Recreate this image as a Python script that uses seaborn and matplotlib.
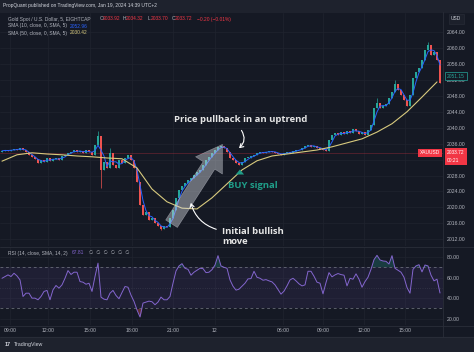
import numpy as np
import pandas as pd

import matplotlib
matplotlib.use("Agg")
import matplotlib.pyplot as plt
import seaborn as sns
from matplotlib.patches import FancyArrowPatch, Rectangle
from matplotlib.lines import Line2D

# XAUUSD 5 min (one candle ~ every 3 px)
close = [
    2034.2, 2034.4, 2034.2, 2034.4, 2034.7, 2034.4, 2034.9, 2034.4, 2033.9, 2033.2,
    2032.7, 2032.2, 2031.2, 2031.9, 2031.4, 2032.4, 2031.7, 2032.2, 2032.4, 2031.9,
    2032.9, 2033.2, 2033.7, 2033.9, 2034.4, 2033.9, 2034.2, 2033.7, 2034.4, 2033.9,
    2033.2, 2035.7, 2037.9, 2029.4, 2031.4, 2029.9, 2033.7, 2030.7, 2029.9, 2031.9,
    2031.2, 2032.4, 2033.2, 2031.9, 2029.9, 2026.4, 2020.6, 2018.1, 2018.8, 2016.8,
    2017.3, 2016.1, 2015.3, 2014.6, 2015.3, 2015.1, 2017.3, 2019.3, 2022.4, 2024.4,
    2025.4, 2026.1, 2026.9, 2027.4, 2028.1, 2028.9, 2029.4, 2030.7, 2031.9, 2032.7,
    2033.7, 2034.4, 2035.2, 2035.4, 2034.9, 2033.9, 2032.4, 2031.9, 2031.2, 2030.7,
    2031.4, 2032.4, 2032.4, 2032.9, 2033.2, 2033.7, 2033.9, 2033.7, 2033.9, 2034.2,
    2033.9, 2033.7, 2033.4, 2033.2, 2033.7, 2033.9, 2033.7, 2034.2, 2034.4, 2034.4,
    2034.9, 2035.4, 2035.7, 2035.2, 2035.4, 2034.9, 2034.7, 2034.4, 2034.2, 2036.9,
    2038.2, 2038.7, 2038.2, 2038.9, 2038.4, 2039.2, 2038.7, 2039.7, 2039.2, 2038.4,
    2038.9, 2038.2, 2039.4, 2040.7, 2045.0, 2046.2, 2045.0, 2045.5, 2046.0, 2047.5,
    2049.0, 2051.0, 2049.5, 2048.2, 2047.0, 2045.5, 2048.2, 2052.5, 2054.0, 2055.0,
    2057.0, 2059.5, 2060.8, 2058.3, 2059.0, 2057.0, 2051.2,
]
first_open = 2034.0
spike_high = {32: 2039.2, 36: 2034.9, 125: 2047.5, 131: 2052.0, 142: 2061.5}
spike_low = {33: 2024.9, 53: 2014.3}

# SMA 50 (yellow), read every 5 candles
sma50_pos = list(range(0, 146, 5))
sma50 = [
    2031.6, 2033.2, 2033.7, 2033.4, 2033.2, 2032.9, 2032.7, 2032.4, 2032.2, 2029.9,
    2024.6, 2021.4, 2019.8, 2019.6, 2022.4, 2025.9, 2029.4, 2031.7, 2032.9, 2033.4,
    2033.9, 2034.4, 2035.2, 2036.2, 2037.2, 2038.9, 2041.0, 2044.0, 2047.7, 2051.5,
]

rsi = [
    59.3, 61.0, 62.6, 61.0, 64.2, 61.6, 57.7, 41.6, 44.8, 44.8,
    40.0, 40.0, 38.4, 41.6, 46.5, 47.5, 38.4, 48.1, 52.3, 49.7,
    52.9, 59.3, 66.8, 63.0, 65.2, 65.2, 56.1, 55.5, 53.5, 54.5,
    46.5, 61.0, 74.0, 41.0, 39.0, 38.4, 44.8, 47.5, 42.6, 39.4,
    45.5, 51.3, 50.6, 42.9, 36.8, 28.5, 21.7, 35.2, 36.2, 37.1,
    36.5, 33.6, 36.2, 41.0, 38.4, 38.4, 41.6, 54.5, 66.4, 71.3,
    73.5, 69.0, 68.0, 62.3, 65.2, 67.1, 69.0, 68.7, 64.8, 65.2,
    67.7, 72.2, 81.3, 71.3, 70.0, 69.0, 57.7, 51.6, 47.8, 48.7,
    51.6, 54.5, 58.7, 59.0, 66.1, 60.3, 59.3, 57.4, 58.0, 56.8,
    55.8, 52.9, 48.4, 43.9, 46.8, 51.9, 57.7, 59.3, 56.8, 53.9,
    51.9, 52.9, 66.1, 66.1, 61.3, 55.5, 54.5, 44.2, 55.1, 64.8,
    60.7, 62.6, 63.9, 62.9, 62.3, 51.9, 59.3, 58.4, 63.6, 58.4,
    50.6, 56.1, 60.3, 68.0, 77.4, 81.6, 77.1, 76.1, 75.8, 73.2,
    81.3, 69.0, 67.1, 65.2, 60.3, 50.3, 44.8, 68.0, 71.3, 72.5,
    65.5, 72.2, 71.3, 62.3, 56.8, 58.4, 45.0,
]

price_ticks = [2012, 2016, 2020, 2024, 2028, 2032, 2036, 2040, 2044, 2048, 2052, 2056, 2060, 2064]
rsi_ticks = [20, 40, 60, 80]
time_pos = [2.7, 15.3, 29.3, 43.3, 57, 71, 93.7, 107, 120.7, 134.3]
time_labels = ["09:00", "12:00", "15:00", "18:00", "21:00", "12", "06:00", "09:00", "12:00", "15:00"]
last_price = 2033.72

# цвета TradingView (тёмная тема)
BG = "#151924"
STRIP = "#1e222d"
GRID = "#20242f"
SEP = "#2a2e39"
TXT = "#b2b5be"
UP = "#26a69a"
DOWN = "#ef5350"
BLUE = "#2962ff"
YELLOW = "#d8ca7e"
PURPLE = "#8466cf"
RED = "#f23645"

sns.set_theme(style="dark")
plt.rcParams["font.family"] = ["Liberation Sans", "DejaVu Sans"]

W, H = 474, 352
fig = plt.figure(figsize=(W / 100, H / 100), dpi=100)
fig.patch.set_facecolor(BG)


def fx(x):
    return x / W


def fy(y):
    return 1 - y / H


ax = fig.add_axes([0, fy(246), fx(443), (246 - 13) / H])
ax2 = fig.add_axes([0, fy(325), fx(443), (325 - 247) / H])

for a in (ax, ax2):
    a.set_facecolor(BG)
    for s in a.spines.values():
        s.set_visible(False)
    a.set_xlim(-0.667, 147)
    a.yaxis.tick_right()
    a.set_xticks(time_pos)
    a.grid(True, color=GRID, lw=0.5)
    a.tick_params(length=0, labelsize=3.7, labelcolor=TXT, pad=3)

# --- свечи ---
idx = np.arange(len(close))
c = np.array(close)
o = np.array([first_open] + close[:-1])
body_lo = np.minimum(o, c)
hi = np.maximum(o, c)
lo = body_lo.copy()
for k, v in spike_high.items():
    hi[k] = v
for k, v in spike_low.items():
    lo[k] = v
cols = np.where(c >= o, UP, DOWN)

ax.axhline(last_price, color=RED, alpha=0.3, lw=0.6, zorder=1)
ax.vlines(idx, lo, hi, colors=cols, lw=0.5, zorder=2)
ax.bar(idx, np.maximum(np.abs(c - o), 0.12), bottom=body_lo, width=0.6,
       color=cols, linewidth=0, zorder=2)

sma10 = pd.Series(close).rolling(3, min_periods=1).mean()
sns.lineplot(x=idx, y=sma10, ax=ax, color=BLUE, lw=0.7, zorder=3)
sns.lineplot(x=sma50_pos, y=sma50, ax=ax, color=YELLOW, lw=0.8, zorder=3)

ax.set_ylim(2010.3, 2068.8)
ax.set_yticks(price_ticks)
# 2032 закрыт красной плашкой текущей цены
ax.set_yticklabels(["" if v == 2032 else f"{v:.2f}" for v in price_ticks])
ax.set_xticklabels([])
ax.set_xlabel("")
ax.set_ylabel("")

# --- аннотации ---
ax.add_patch(FancyArrowPatch((56, 2015.3), (74, 2036.4),
                             arrowstyle="simple,head_length=1.8,head_width=2.3,tail_width=1.0",
                             mutation_scale=10, fc="#d1d4dc", ec="#e0e3eb", alpha=0.45,
                             lw=0.4, zorder=4))
ax.add_patch(FancyArrowPatch((79.3, 2039.9), (78.3, 2034.4), connectionstyle="arc3,rad=-0.5",
                             arrowstyle="->,head_length=2.5,head_width=1.5", mutation_scale=1,
                             color="white", lw=0.8, zorder=5))
ax.add_patch(FancyArrowPatch((72.3, 2014.3), (62.7, 2021.8), connectionstyle="arc3,rad=-0.3",
                             arrowstyle="->,head_length=2.5,head_width=1.5", mutation_scale=1,
                             color="white", lw=0.8, zorder=5))
ax.add_patch(FancyArrowPatch((79.3, 2027.6), (79.3, 2030.2),
                             arrowstyle="simple,head_length=0.6,head_width=1.0,tail_width=0.45",
                             mutation_scale=6, color="#1f9e89", lw=0, zorder=5))

ann = dict(family=["Open Sans", "DejaVu Sans"], weight="bold", fontsize=6.8)
fig.text(fx(241), fy(119), "Price pullback in an uptrend", color="#e6e6e6",
         ha="center", va="center", **ann)
fig.text(fx(253), fy(186), "BUY signal", color="#1f9e89", ha="center", va="center", **ann)
fig.text(fx(222), fy(231), "Initial bullish", color="#e6e6e6", ha="left", va="center", **ann)
fig.text(fx(222), fy(242), "move", color="#e6e6e6", ha="left", va="center", **ann)

# --- RSI ---
ax2.axhspan(30, 70, color="#7e57c2", alpha=0.1, lw=0)
for lvl in (70, 30):
    ax2.axhline(lvl, color="#787b86", lw=0.5, ls=(0, (4, 4)))
ax2.axhline(50, color="#787b86", lw=0.4, ls=(0, (1, 3)), alpha=0.6)
r = np.array(rsi)
ax2.fill_between(idx, r, 70, where=r > 70, interpolate=True, color=UP, alpha=0.25, lw=0)
ax2.fill_between(idx, r, 30, where=r < 30, interpolate=True, color=DOWN, alpha=0.35, lw=0)
sns.lineplot(x=idx, y=r, ax=ax2, color=PURPLE, lw=0.7)
ax2.set_ylim(13.9, 89.7)
ax2.set_yticks(rsi_ticks)
ax2.set_yticklabels([f"{v:.2f}" for v in rsi_ticks])
ax2.set_xticklabels(time_labels)
ax2.tick_params(axis="x", pad=2)
ax2.set_xlabel("")
ax2.set_ylabel("")

# --- полосы и разделители ---
fig.add_artist(Rectangle((0, fy(12)), 1, 12 / H, transform=fig.transFigure,
                         color=STRIP, zorder=0))
fig.add_artist(Rectangle((0, 0), 1, 15 / H, transform=fig.transFigure,
                         color=STRIP, zorder=0))
for x0, y0, x1, y1 in [(443, 12, 443, 337), (0, 246.5, 474, 246.5), (0, 325.5, 474, 325.5),
                       (0, 337, 474, 337)]:
    fig.add_artist(Line2D([fx(x0), fx(x1)], [fy(y0), fy(y1)], color=SEP, lw=0.6))

small = dict(fontsize=3.5, va="center")
fig.text(fx(3), fy(6), "PropQuant published on TradingView.com, Jan 19, 2024 14:39 UTC+2",
         color="#d1d4dc", **small)

# легенда
fig.text(fx(8), fy(19), "Gold Spot / U.S. Dollar, 5, EIGHTCAP", color=TXT, **small)
for x, lab, val in [(100, "O", "2033.92"), (123, "H", "2034.32"),
                    (148, "L", "2033.70"), (172, "C", "2033.72")]:
    fig.text(fx(x), fy(19), lab, color=TXT, **small)
    fig.text(fx(x + 3), fy(19), val, color=RED, **small)
fig.text(fx(197), fy(19), "\u22120.20 (\u22120.01%)", color=RED, **small)
fig.text(fx(8), fy(26), "SMA (10, close, 0, SMA, 5)", color=TXT, **small)
fig.text(fx(70), fy(26), "2052.96", color=BLUE, **small)
fig.text(fx(8), fy(33), "SMA (50, close, 0, SMA, 5)", color=TXT, **small)
fig.text(fx(70), fy(33), "2030.42", color=YELLOW, **small)
fig.text(fx(8), fy(253), "RSI (14, close, SMA, 14, 2)", color=TXT, **small)
fig.text(fx(72), fy(253), "67.81", color=PURPLE, **small)
fig.text(fx(89), fy(253), "\u2205  \u2205  \u2205  \u2205  \u2205  \u2205", color=TXT,
         family=["DejaVu Sans"], **small)

# плашки на шкале цены
fig.text(fx(451), fy(19), "USD", color="#d1d4dc", zorder=5,
         bbox=dict(boxstyle="square,pad=0.5", fc="#1c202b", ec=SEP, lw=0.4), **small)
fig.text(fx(447), fy(76), "2051.15", color=UP, zorder=5,
         bbox=dict(boxstyle="square,pad=0.35", fc=BG, ec=UP, lw=0.5), **small)
fig.text(fx(420), fy(153), "XAUUSD", color="white", zorder=5, ha="left",
         bbox=dict(boxstyle="square,pad=0.35", fc=RED, ec=RED, lw=0), **small)
fig.text(fx(447), fy(156.5), "2033.72\n00:21", color="white", zorder=5, linespacing=1.5,
         bbox=dict(boxstyle="square,pad=0.45", fc=RED, ec=RED, lw=0), **small)

# логотип внизу
fig.text(fx(5), fy(344.5), "17", color="#d1d4dc", fontsize=4, weight="bold", va="center")
fig.text(fx(14), fy(344.5), "TradingView", color="#d1d4dc", fontsize=3.8, va="center")

fig.savefig("out.png", dpi=100, facecolor=fig.get_facecolor())
plt.close(fig)
